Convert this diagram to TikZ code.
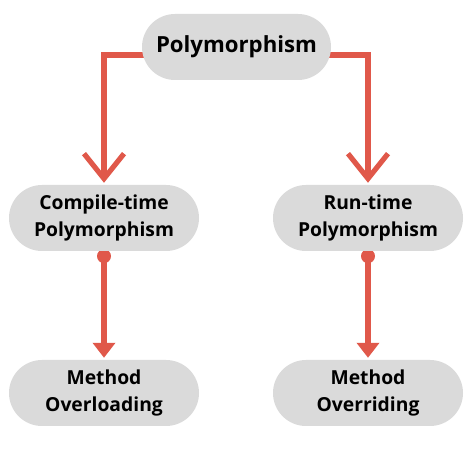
\documentclass[tikz,border=0pt]{standalone}
\usepackage{fontspec}
\setmainfont{Open Sans}
\usetikzlibrary{arrows.meta,shapes.misc,backgrounds}
\definecolor{redline}{HTML}{E0584A}
\definecolor{boxgray}{HTML}{DADADA}
\tikzset{
  pill/.style={rounded rectangle, fill=boxgray, draw=none, minimum width=190pt, minimum height=66pt, align=center, font=\fontsize{19.3}{27}\selectfont\bfseries, text=black, inner sep=0pt},
  conn/.style={draw=redline, line width=5.2pt},
  opentip/.style={-{Straight Barb[length=25pt,width=40pt,line width=5.2pt]}},
  filltip/.style={-{Triangle[length=15pt,width=22pt]}},
}
\begin{document}
\begin{tikzpicture}[x=1pt,y=1pt]
\useasboundingbox (0,0) rectangle (474,474);
\node[pill, minimum width=189pt, font=\fontsize{22.2}{27}\selectfont\bfseries] (poly) at (236.5,427) {Polymorphism};
\node[pill] (ct) at (104,256) {Compile-time\\Polymorphism};
\node[pill] (rt) at (368,256) {Run-time\\Polymorphism};
\node[pill] (ol) at (104,81) {Method\\Overloading};
\node[pill] (or) at (368,81) {Method\\Overriding};
\coordinate (dl) at ([yshift=-5pt]ct.south);
\coordinate (dr) at ([yshift=-5pt]rt.south);
\begin{scope}[on background layer]
\draw[conn, opentip, shorten >=2pt] ([yshift=-8pt]poly.center) -| (ct.north);
\draw[conn, opentip, shorten >=2pt] ([yshift=-8pt]poly.center) -| (rt.north);
\draw[conn, filltip, shorten >=2pt] (dl) -- (ol.north);
\draw[conn, filltip, shorten >=2pt] (dr) -- (or.north);
\fill[redline] (dl) circle (7pt);
\fill[redline] (dr) circle (7pt);
\end{scope}
\end{tikzpicture}
\end{document}
